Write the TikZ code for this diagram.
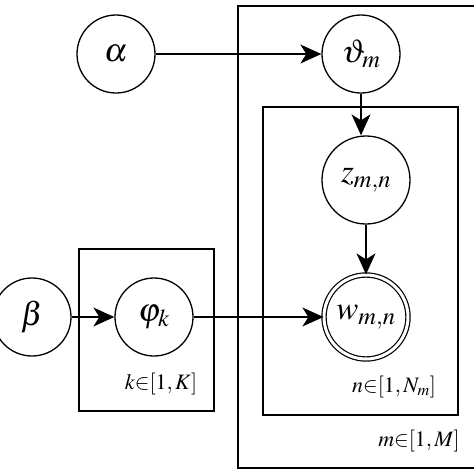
\documentclass[tikz,border=0pt]{standalone}
\usepackage{mathptmx}
\usetikzlibrary{arrows.meta}
\begin{document}
\begin{tikzpicture}[x=1pt,y=-1pt,
  var/.style={circle,draw,line width=1.3pt,minimum size=78pt,inner sep=0pt,font=\fontsize{33}{36}\selectfont},
  obs/.style={var,double,double distance=3pt,line width=1.2pt,minimum size=84pt},
  plate/.style={draw,line width=1.5pt},
  platelabel/.style={font=\fontsize{22}{24}\selectfont,inner sep=0pt},
  edge/.style={line width=1.3pt,-{Stealth[length=21pt,width=19pt,inset=6pt]}}]
\useasboundingbox (0,0) rectangle (474,474);
\clip (0,0) rectangle (474,474);
% plates
\draw[plate] (238,6) rectangle (490,468);
\draw[plate] (263,107) rectangle (458,415);
\draw[plate] (79,249) rectangle (214,411);
% nodes
\node[var] (alpha) at (116,54) {$\alpha$};
\node[var] (theta) at (361,54) {$\vartheta_m$};
\node[var,minimum size=88pt] (z) at (366,180) {$z_{m,n}$};
\node[obs] (w) at (366,317) {$w_{m,n}$};
\node[var] (beta) at (32,317) {$\beta$};
\node[var] (phi) at (154,317) {$\varphi_k$};
% labels
\node[platelabel] (lk) at (161,384) {$k{\in}[1,K]$};
\node[platelabel] (ln) at (394,387) {$n{\in}[1,N_m]$};
\node[platelabel] (lm) at (419,441) {$m{\in}[1,M]$};
% edges
\draw[edge] (alpha) -- (theta);
\draw[edge] (theta.south) -- (theta.south |- z.north);
\draw[edge] (z) -- (w);
\draw[edge] (beta) -- (phi);
\draw[edge] (phi) -- (w);
\end{tikzpicture}
\end{document}
